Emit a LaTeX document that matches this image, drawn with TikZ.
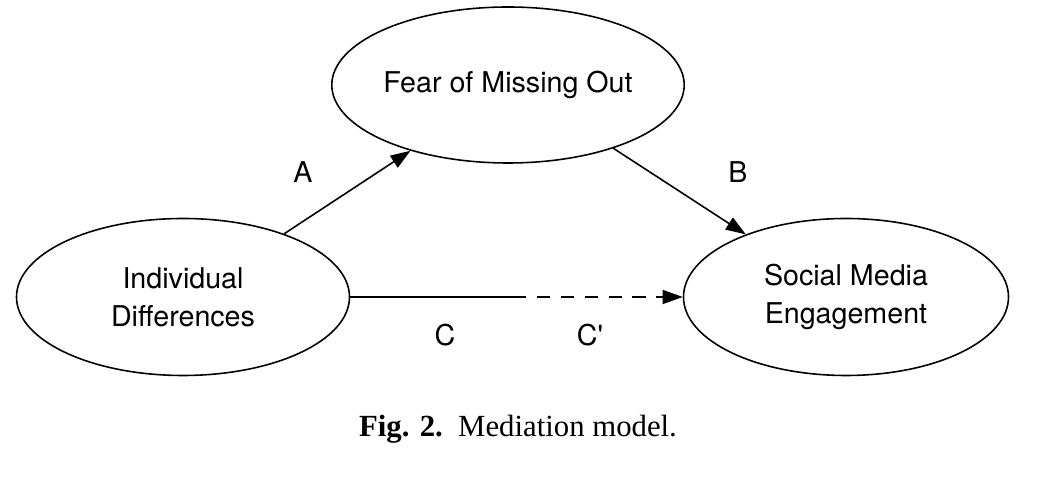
\documentclass[tikz,border=0pt]{standalone}
\usepackage{fontspec}
\setmainfont{Liberation Serif}
\newfontfamily\labelfont{TeX Gyre Heros}
\usepackage{tikz}
\usetikzlibrary{
    arrows.meta,
    shapes.geometric
}

\begin{document}
\begin{tikzpicture}[
    construct/.style={draw, ellipse, line width=0.9pt, inner sep=0pt,
        align=center, font=\labelfont\fontsize{16.3}{21.5}\selectfont},
    path/.style={line width=0.9pt},
    tip/.style={-{Triangle[length=0.4cm,width=0.28cm]}},
    pathlabel/.style={font=\labelfont\fontsize{16.3}{19}\selectfont}
]

\useasboundingbox (0,0) rectangle (20.74,-9.54);

% Constructs
\node (ind) [construct, minimum width=6.66cm, minimum height=3.14cm]
    at (3.66,-5.94) {Individual\\Differences};
\node (fomo) [construct, minimum width=6.6cm, minimum height=3.12cm]
    at (10.16,-1.70) {Fear of Missing Out};
\node (sme) [construct, minimum width=6.5cm, minimum height=3.14cm]
    at (16.92,-5.94) {Social Media\\Engagement};

% Mediated paths
\draw[path, tip] (ind.32) -- (fomo.214);
\draw[path, tip] (fomo.-31) -- (sme.148);

% Direct path
\coordinate (split) at (10.26,-5.94);
\draw[path] (ind.east) -- (split);
\draw[path, tip, dash pattern=on 7.6pt off 6pt] (split) -- (sme.west);

% Path labels
\node (a) [pathlabel] at (6.06,-3.44) {A};
\node (b) [pathlabel] at (14.76,-3.44) {B};
\node (c) [pathlabel] at (8.9,-6.7) {C};
\node (cp) [pathlabel] at (11.8,-6.7) {C\textquotesingle};

% Caption
\node (caption) at (10.36,-8.58) {\fontsize{17.5}{21}\selectfont\textbf{Fig. 2.}\ \ Mediation model.};

\end{tikzpicture}
\end{document}
